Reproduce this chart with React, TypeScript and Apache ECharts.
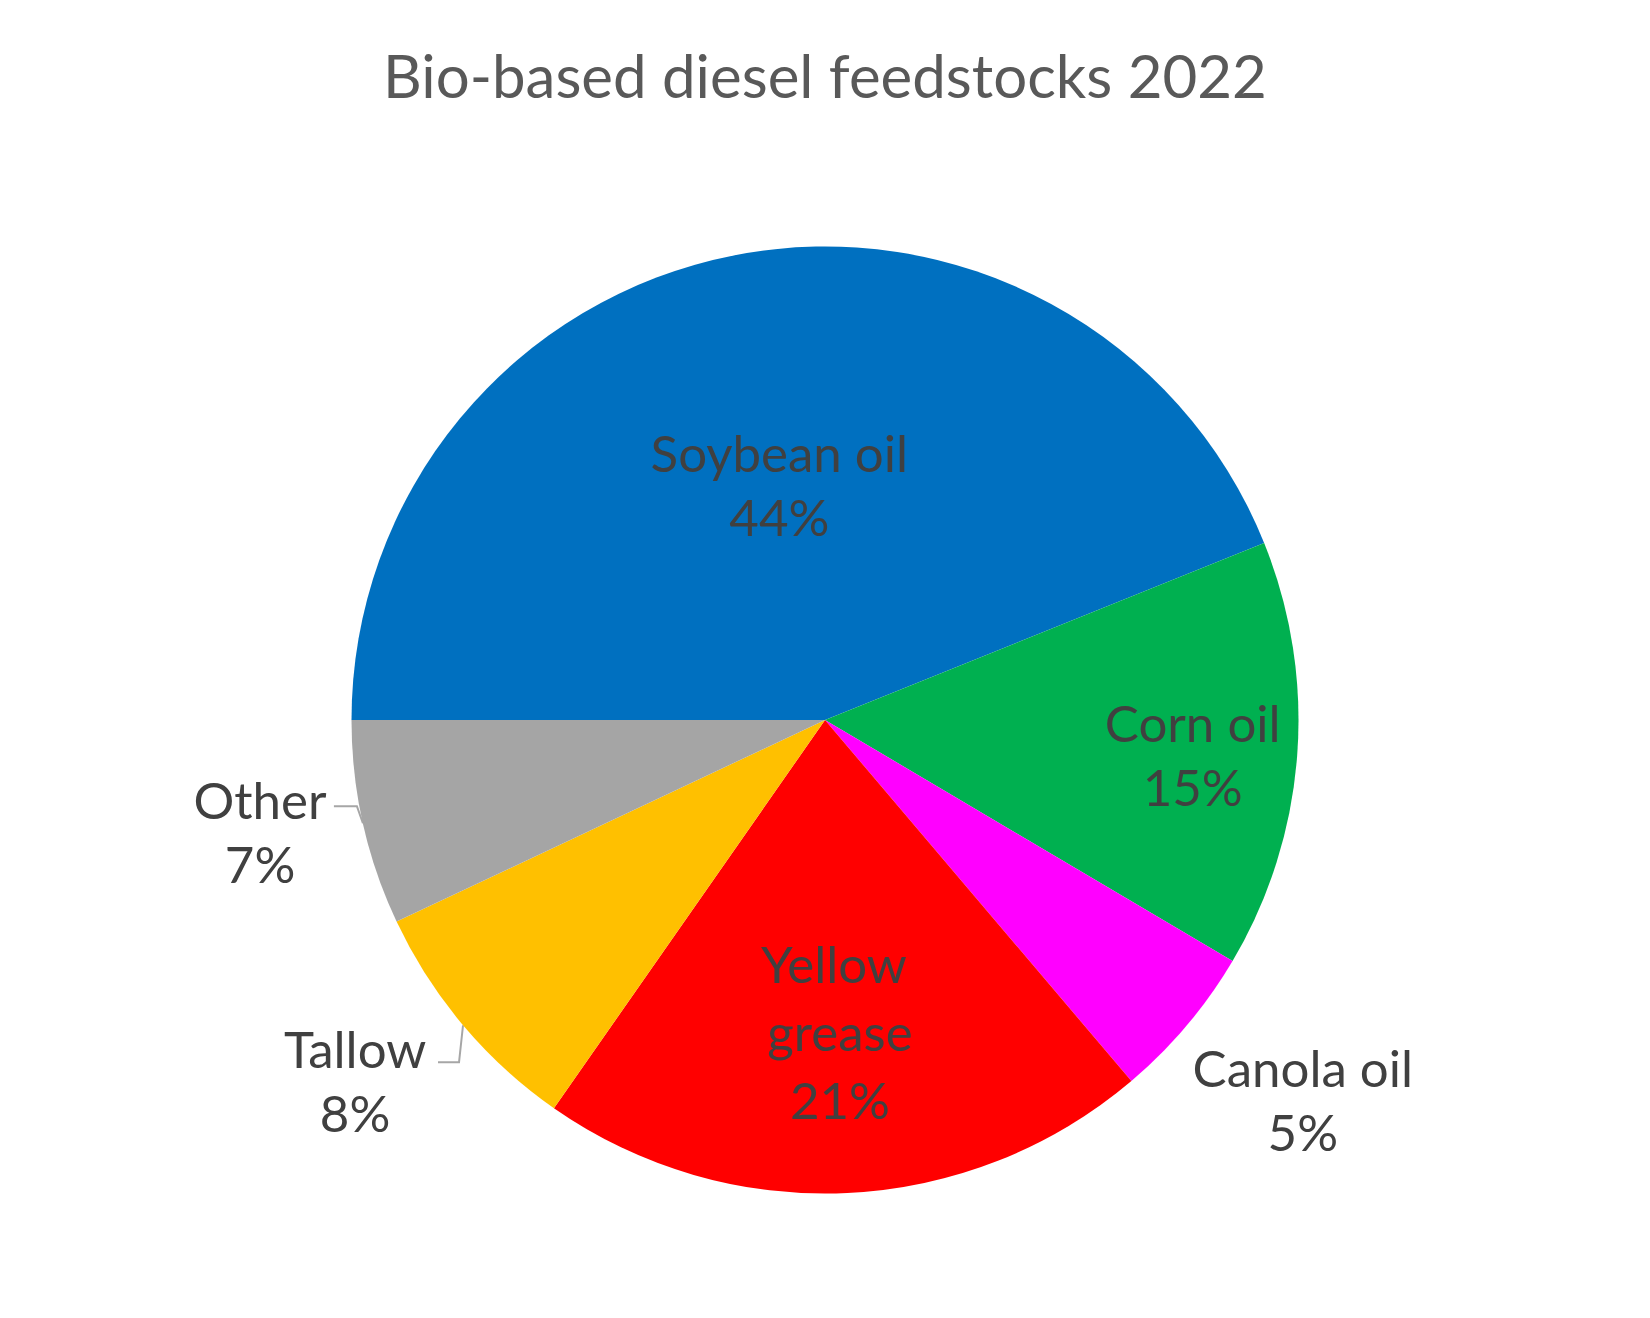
import { useEffect, useRef } from 'react';
import * as echarts from 'echarts';

// slice order runs clockwise from 9 o'clock
const categories = ['Soybean oil', 'Corn oil', 'Canola oil', 'Yellow grease', 'Tallow', 'Other'];
const shares = [43.9, 14.6, 5.3, 20.9, 8.3, 7.0];
const sliceColors = ['#0070C0', '#00B050', '#FF00FF', '#FF0000', '#FFC000', '#A5A5A5'];
const chartTitle = 'Bio-based diesel feedstocks 2022';

const FONT = 'Lato';
const LABEL_COLOR = '#404040';
const CENTER = [825, 720];
const R = 473.5;

const labelFont = {
    color: LABEL_COLOR,
    fontFamily: FONT,
    fontSize: 51,
    lineHeight: 64
};

// transparent copy of the pie, used only to place one label at a chosen radius
const labelRing = (name: string, radius: number[], label: any, nudge: number[]) => ({
    type: 'pie' as const,
    center: CENTER,
    radius,
    startAngle: 180,
    clockwise: true,
    silent: true,
    percentPrecision: 0,
    avoidLabelOverlap: false,
    emphasis: { disabled: true },
    tooltip: { show: false },
    itemStyle: { color: 'rgba(0,0,0,0)' },
    labelLine: { show: false },
    labelLayout: () => ({ dx: nudge[0], dy: nudge[1] }),
    data: categories.map((c, i) => ({
        name: c,
        value: shares[i],
        label: c === name ? { show: true, position: 'inside', ...labelFont, ...label } : { show: false }
    }))
});

const outsideLabel = (padTop: number) => ({
    show: true,
    position: 'outside',
    formatter: '{m|{b}}\n{m|{d}%}',
    distanceToLabelLine: 2,
    padding: [padTop, 0, 0, 0],
    rich: {
        m: { ...labelFont, width: 150, align: 'center' }
    }
});

// Excel-style elbow leaders: short drop / rise from the rim, then a horizontal run
const leaderBends: Record<string, number[]> = {
    Tallow: [-4, 37, -21],
    Other: [-6, -17, -23]
};

const App = () => {
    const chartRef = useRef<HTMLDivElement>(null);

    useEffect(() => {
        document.body.style.margin = '0';
        if (!chartRef.current) return;
        const chart = echarts.init(chartRef.current, undefined, { renderer: 'svg' });

        const mainData = categories.map((name, i) => {
            const item: any = {
                name,
                value: shares[i],
                itemStyle: { color: sliceColors[i] },
                label: { show: false },
                labelLine: { show: false }
            };
            if (name === 'Soybean oil') {
                item.label = { show: true, position: 'inside', formatter: '{b}\n{d}%', ...labelFont };
            }
            if (name === 'Tallow') {
                item.label = outsideLabel(72);
                item.labelLine = { show: true, length: 30, length2: 8 };
            }
            if (name === 'Other') {
                item.label = outsideLabel(12);
                item.labelLine = { show: true, length: 8, length2: 18 };
            }
            return item;
        });

        chart.setOption({
            animation: false,
            backgroundColor: '#ffffff',
            title: {
                text: chartTitle,
                left: 'center',
                top: 40,
                textStyle: {
                    fontFamily: FONT,
                    fontSize: 60,
                    fontWeight: 'normal',
                    color: '#595959'
                }
            },
            series: [
                {
                    type: 'pie',
                    center: CENTER,
                    radius: [0, R],
                    startAngle: 180,
                    clockwise: true,
                    percentPrecision: 0,
                    avoidLabelOverlap: false,
                    emphasis: { disabled: true },
                    itemStyle: { borderWidth: 0 },
                    labelLine: {
                        lineStyle: { color: '#A6A6A6', width: 2 }
                    },
                    labelLayout: (params: any) => {
                        const pts = params.labelLinePoints;
                        const bend = leaderBends[categories[params.dataIndex]];
                        if (!pts || !bend) return {};
                        const start = pts[0];
                        const elbow = [start[0] + bend[0], start[1] + bend[1]];
                        return { labelLinePoints: [start, elbow, [elbow[0] + bend[2], elbow[1]]] };
                    },
                    data: mainData
                },
                labelRing('Corn oil', [258, R], { formatter: '{b}\n{d}%' }, [0, 7]),
                labelRing('Yellow grease', [155, R], { formatter: '{b}\n{d}%', width: 230, overflow: 'break', lineHeight: 68 }, [0, -5]),
                labelRing('Canola oil', [R, 747], { formatter: '{b}\n{d}%' }, [9, -16])
            ]
        });

        return () => {
            chart.dispose();
        };
    }, []);

    return <div ref={chartRef} style={{ width: '1650px', height: '1318px' }} />;
};

export default App;
